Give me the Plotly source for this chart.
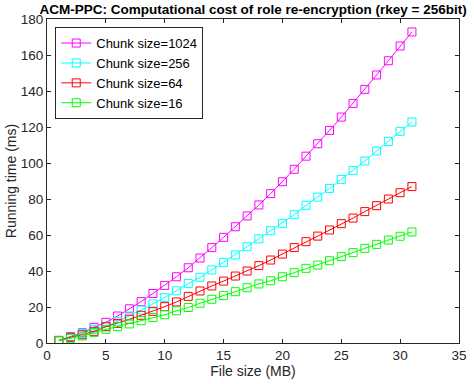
import plotly.graph_objects as go

file_size = list(range(1, 32))
chunk_1024 = [1.5, 3.5, 5.7, 8.7, 11.5, 15.0, 19.0, 23.0, 27.5, 32.0, 36.8, 41.8, 47.2, 53.0, 58.7,
              64.6, 70.6, 76.7, 83.0, 89.6, 96.5, 103.8, 110.7, 118.1, 125.5, 133.1, 140.9, 148.9,
              156.8, 165.0, 172.8]
chunk_256 = [1.3, 3.2, 5.4, 7.6, 9.2, 12.0, 15.0, 18.3, 21.7, 25.2, 29.0, 33.0, 36.5, 40.6, 44.8,
             48.9, 53.5, 57.9, 62.4, 66.5, 71.3, 76.5, 81.0, 85.9, 90.9, 95.9, 101.1, 106.7,
             112.0, 117.6, 122.8]
chunk_64 = [1.3, 3.2, 4.6, 6.5, 9.0, 10.9, 13.2, 15.4, 17.6, 20.2, 22.8, 25.9, 28.9, 31.7, 34.4,
            37.2, 40.0, 43.0, 46.1, 49.4, 53.0, 56.3, 59.4, 62.8, 66.3, 69.4, 73.0, 76.3,
            80.0, 83.5, 86.9]
chunk_16 = [1.3, 2.6, 3.9, 5.9, 7.6, 9.1, 10.6, 12.4, 14.1, 15.7, 17.9, 19.7, 22.1, 24.3, 26.3,
            28.5, 30.7, 32.8, 34.6, 36.8, 39.1, 41.5, 43.3, 45.7, 48.0, 50.2, 52.6, 54.8,
            57.2, 59.3, 61.7]

series = [
    ("Chunk size=1024", chunk_1024, "#ff00ff"),
    ("Chunk size=256", chunk_256, "#00ffff"),
    ("Chunk size=64", chunk_64, "#ff0000"),
    ("Chunk size=16", chunk_16, "#00ff00"),
]

x_ticks = [0, 5, 10, 15, 20, 25, 30, 35]
y_ticks = [0, 20, 40, 60, 80, 100, 120, 140, 160, 180]

FONT = "Liberation Sans, Arial"

fig = go.Figure()
for name, ys, col in series:
    fig.add_trace(go.Scatter(
        x=file_size, y=ys, name=name, mode="lines+markers",
        line=dict(color=col, width=1),
        marker=dict(symbol="square-open", size=8, color=col, line=dict(width=1, color=col)),
    ))

axis_common = dict(
    showgrid=False, zeroline=False, showline=True, linecolor="#262626", linewidth=1,
    mirror="ticks", ticks="inside", ticklen=4, tickcolor="#262626", automargin=False,
    tickfont=dict(family=FONT, size=13.5, color="#262626"),
)

fig.update_layout(
    width=474, height=384,
    margin=dict(l=47, r=15, t=19, b=41),
    paper_bgcolor="white", plot_bgcolor="white",
    title=dict(text="<b>ACM-PPC: Computational cost of role re-encryption (rkey = 256bit)</b>",
               x=0.534, xanchor="center", y=0.977, yanchor="middle",
               font=dict(family=FONT, size=13.5, color="#000000")),
    xaxis=dict(range=[0, 35], tickvals=x_ticks,
               title=dict(text="File size (MB)", standoff=0,
                          font=dict(family=FONT, size=14, color="#262626")),
               **axis_common),
    yaxis=dict(range=[0, 180], tickvals=y_ticks,
               title=dict(text="Running time (ms)", standoff=0,
                          font=dict(family=FONT, size=14, color="#262626")),
               **axis_common),
    legend=dict(x=0.02, y=0.975, xanchor="left", yanchor="top",
                bgcolor="white", bordercolor="#262626", borderwidth=1,
                font=dict(family=FONT, size=13, color="#000000"),
                tracegroupgap=0, itemwidth=30),
    showlegend=True,
)

fig.write_html("out.html", config={"displayModeBar": False},
               post_script="document.body.style.margin='0';")
